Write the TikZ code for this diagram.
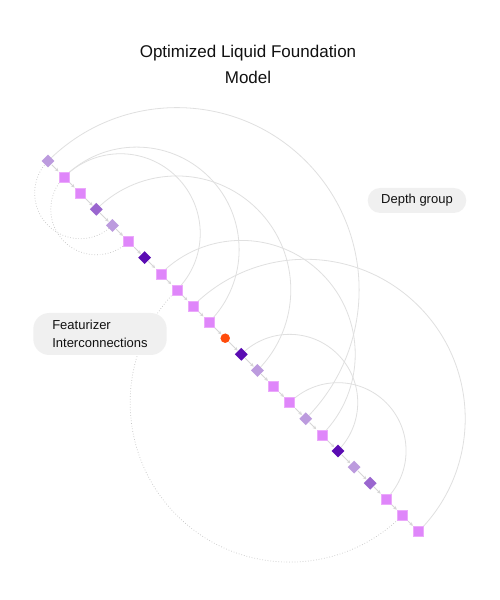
\documentclass[tikz,border=0pt]{standalone}
\usepackage{fontspec}
\setmainfont{Liberation Sans}
\usetikzlibrary{shapes.geometric,calc,backgrounds,arrows.meta}
\definecolor{sqc}{HTML}{DF86FA}
\definecolor{sqb}{HTML}{EBA9FB}
\definecolor{ldc}{HTML}{BC9BDE}
\definecolor{mdc}{HTML}{9A66CF}
\definecolor{ddc}{HTML}{5A0CB2}
\definecolor{orc}{HTML}{FF4B0B}
\definecolor{arcc}{HTML}{E0E0E0}
\definecolor{dotc}{HTML}{C4C4C4}
\definecolor{linkc}{HTML}{D6D6D6}
\definecolor{boxc}{HTML}{F0F0F0}
\definecolor{txtc}{HTML}{111111}
\tikzset{
  sqm/.style={rectangle, minimum size=10pt, inner sep=0pt, fill=sqc, draw=sqb, line width=0.5pt},
  ldm/.style={diamond, minimum size=13pt, inner sep=0pt, fill=ldc},
  mdm/.style={diamond, minimum size=13pt, inner sep=0pt, fill=mdc},
  ddm/.style={diamond, minimum size=13pt, inner sep=0pt, fill=ddc},
  orm/.style={circle, minimum size=9.5pt, inner sep=0pt, fill=orc},
  link/.style={draw=linkc, line width=0.8pt, -{Stealth[length=3.5pt,width=3.5pt]}, shorten <=0.6pt, shorten >=0.6pt},
  arcline/.style={draw=arcc, line width=0.8pt},
  dotline/.style={draw=dotc, line width=0.7pt, dotted},
  tag/.style={fill=boxc, text=txtc, font=\fontsize{13}{18}\selectfont},
  titletext/.style={text=txtc, align=center, font=\fontsize{17}{26}\selectfont}
}
\newcommand\semiarc[4]{%
  \draw[#1] let \p1=($(m#3)-(m#2)$), \n1={veclen(\x1,\y1)/2} in
    (m#2.center) arc[start angle=135, delta angle=#4, radius=\n1];}
\begin{document}
\begin{tikzpicture}[x=1pt,y=1pt]
\useasboundingbox (0,0) rectangle (500,600);
% markers
\foreach \t [count=\i from 0] in {ldm,sqm,sqm,mdm,ldm,sqm,ddm,sqm,sqm,sqm,sqm,orm,ddm,ldm,sqm,sqm,ldm,sqm,ddm,ldm,mdm,sqm,sqm,sqm}
  \node[\t] (m\i) at ({48+16.11*\i},{439-16.11*\i}) {};
\begin{scope}[on background layer]
  \fill[white] (0,0) rectangle (500,600);
  % solid arcs (upper right)
  \semiarc{arcline}{0}{16}{-180}
  \semiarc{arcline}{1}{10}{-180}
  \semiarc{arcline}{1}{8}{-180}
  \semiarc{arcline}{3}{13}{-180}
  \semiarc{arcline}{7}{17}{-180}
  \semiarc{arcline}{9}{23}{-180}
  \semiarc{arcline}{12}{18}{-180}
  \semiarc{arcline}{15}{21}{-180}
  % dotted arcs (lower left)
  \semiarc{dotline}{0}{4}{180}
  \semiarc{dotline}{1}{5}{180}
  \semiarc{dotline}{8}{22}{180}
  % chain arrows
  \foreach \i in {0,...,22}{
    \pgfmathtruncatemacro\j{\i+1}
    \draw[link] (m\i) -- (m\j);
  }
\end{scope}
% labels
\node[titletext] (title) at (248,536) {Optimized Liquid Foundation\\Model};
\node[tag, rounded corners=12.5pt, minimum height=25pt, inner xsep=13.5pt, inner ysep=0pt] (depth) at (417,399.5) {Depth group};
\node[tag, rounded corners=16pt, minimum height=42pt, inner xsep=19pt, inner ysep=0pt, align=left] (feat) at (100,266) {Featurizer\\Interconnections};
\end{tikzpicture}
\end{document}
